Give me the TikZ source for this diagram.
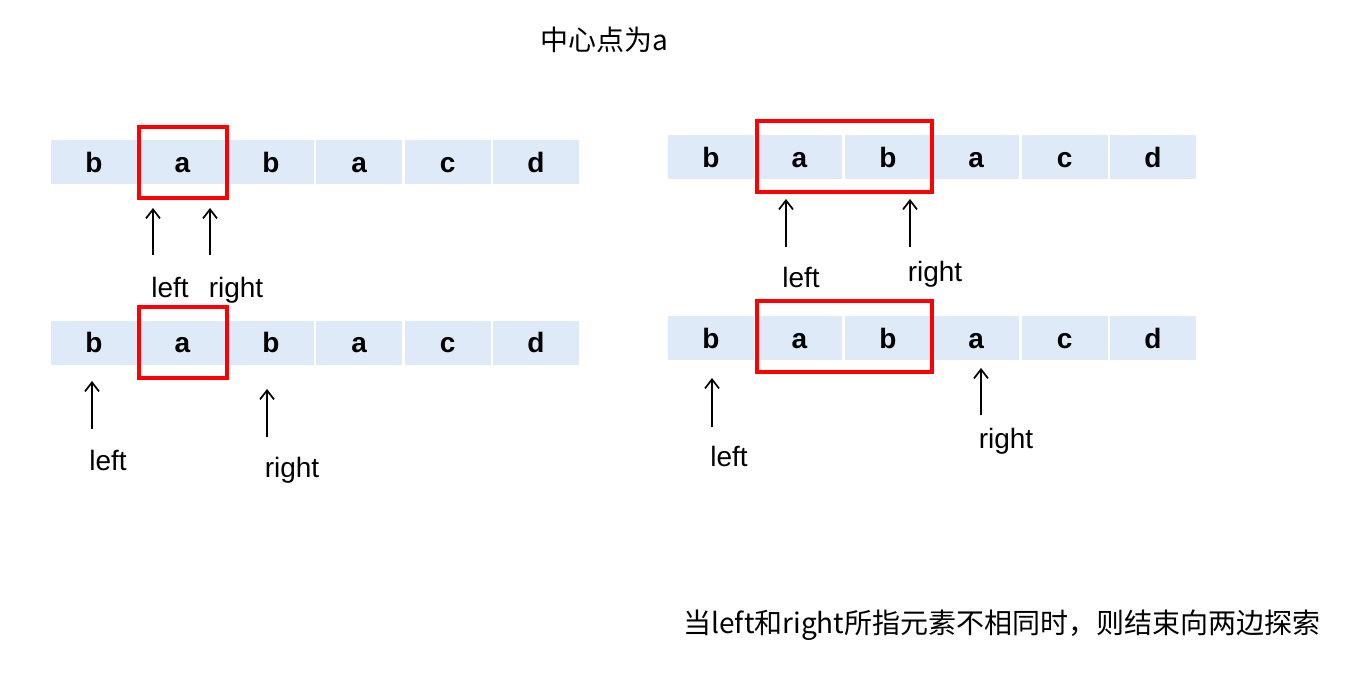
\documentclass[tikz,border=0pt]{standalone}
\usepackage{fontspec}
\setmainfont{Liberation Sans}
\newfontfamily\cjk{Noto Sans CJK SC}
\usetikzlibrary{arrows.meta}
\definecolor{cellblue}{HTML}{DEEAF8}
\definecolor{boxred}{HTML}{FF0000}
\tikzset{
  cell/.style={fill=cellblue, minimum width=86pt, minimum height=44pt, inner sep=0pt,
    text height=20pt, text depth=0pt,
    font=\fontsize{28}{32}\selectfont\bfseries},
  redbox/.style={draw=boxred, line width=4pt},
  ptr/.style={line width=1.7pt, -{Straight Barb[length=9pt,width=14pt]}},
  lbl/.style={anchor=base, inner sep=0pt, font=\fontsize{28}{33}\selectfont},
  cjktext/.style={inner sep=0pt, font=\fontsize{28}{33}\selectfont\cjk}
}
\begin{document}
\begin{tikzpicture}[x=1pt,y=-1pt]
\useasboundingbox (0,0) rectangle (1354,674);
% title
\node[cjktext] (title) at (604,40) {中心点为a};
\node[cjktext] (note) at (1002,625) {当left和right所指元素不相同时，则结束向两边探索};
% arrays
\foreach \r/\yy/\xs in {A/162/94, B/342.5/94, C/157/711, D/338/711}{
  \foreach \t [count=\i from 0] in {b,a,b,a,c,d}{
    \node[cell] (\r\i) at ({\xs+88.4*\i},\yy) {\t};
  }
}
% red boxes
\draw[redbox] (139,127) rectangle (227,198);
\draw[redbox] (139,307) rectangle (227,378);
\draw[redbox] (757,121) rectangle (932,192);
\draw[redbox] (757,301) rectangle (932,372);
% pointers top-left
\coordinate (a1t) at (153,255); \coordinate (a1h) at (153,208);
\coordinate (a2t) at (210,255); \coordinate (a2h) at (210,208);
\draw[ptr] (a1t) -- (a1h);
\draw[ptr] (a2t) -- (a2h);
\node[lbl] (la1) at (170,297) {left};
\node[lbl] (ra1) at (236,297) {right};
% pointers bottom-left
\coordinate (b1t) at (92,429); \coordinate (b1h) at (92,381);
\coordinate (b2t) at (267,437); \coordinate (b2h) at (267,389);
\draw[ptr] (b1t) -- (b1h);
\draw[ptr] (b2t) -- (b2h);
\node[lbl] (lb1) at (108,470) {left};
\node[lbl] (rb1) at (292,477) {right};
% pointers top-right
\coordinate (c1t) at (786,247); \coordinate (c1h) at (786,199);
\coordinate (c2t) at (910,247); \coordinate (c2h) at (910,199);
\draw[ptr] (c1t) -- (c1h);
\draw[ptr] (c2t) -- (c2h);
\node[lbl] (lc1) at (801,287) {left};
\node[lbl] (rc1) at (935,281) {right};
% pointers bottom-right
\coordinate (d1t) at (712,427); \coordinate (d1h) at (712,378);
\coordinate (d2t) at (981,415); \coordinate (d2h) at (981,368);
\draw[ptr] (d1t) -- (d1h);
\draw[ptr] (d2t) -- (d2h);
\node[lbl] (ld1) at (729,466) {left};
\node[lbl] (rd1) at (1006,448) {right};
\end{tikzpicture}
\end{document}
